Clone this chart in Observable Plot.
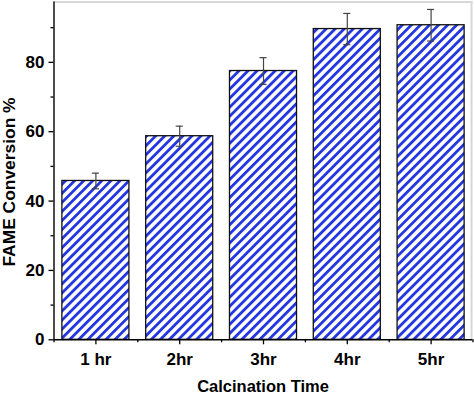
<!DOCTYPE html>
<html>
<head>
<meta charset="utf-8">
<script src="https://cdn.jsdelivr.net/npm/d3@7"></script>
<script src="https://cdn.jsdelivr.net/npm/@observablehq/plot@0.6"></script>
<style>
  html, body { margin: 0; padding: 0; background: #fff; }
  #chart { width: 474px; height: 394px; }
</style>
</head>
<body>
<div id="chart"></div>
<script>
// ---- data ----
const categories = ["1 hr", "2hr", "3hr", "4hr", "5hr"];
const conversion = [45.8, 58.7, 77.5, 89.6, 90.7];
const errors = [2.25, 2.9, 3.85, 4.5, 4.55];
const yMajorTicks = [0, 20, 40, 60, 80];
const yMinorTicks = [10, 30, 50, 70, 90];
const xTitle = "Calcination Time";
const yTitle = "FAME Conversion %";

const data = categories.map((c, i) => ({pos: i + 1, cat: c, value: conversion[i], err: errors[i]}));
const positions = data.map(d => d.pos);
const boundaries = [0.5, ...positions.map(p => p + 0.5)];
const yMax = 97.4;

const chart = Plot.plot({
  width: 474,
  height: 394,
  marginLeft: 53.5,
  marginRight: 1.5,
  marginTop: 1.5,
  marginBottom: 54.7,
  style: {fontFamily: "'Liberation Sans', Arial, sans-serif", fontSize: "17px", fontWeight: "bold", background: "#fff", color: "#000"},
  x: {type: "linear", domain: [0.5, 5.5]},
  y: {domain: [0, yMax]},
  marks: [
    Plot.ruleY([yMax], {stroke: "#d8d8d8", strokeWidth: 2}),
    Plot.ruleX([5.5], {stroke: "#d8d8d8", strokeWidth: 2, dx: -1.5}),
    Plot.rectY(data, {x1: d => d.pos - 0.4, x2: d => d.pos + 0.4, y: "value", fill: "url(#hatch)", stroke: "#111", strokeWidth: 1.3}),
    Plot.ruleX(data, {x: "pos", y1: d => d.value - d.err, y2: d => d.value + d.err, stroke: "#444", strokeWidth: 1.2}),
    Plot.ruleY(data, {x1: d => d.pos - 0.042, x2: d => d.pos + 0.042, y: d => d.value + d.err, stroke: "#444", strokeWidth: 1.2}),
    Plot.ruleY(data, {x1: d => d.pos - 0.042, x2: d => d.pos + 0.042, y: d => d.value - d.err, stroke: "#444", strokeWidth: 1.2}),
    Plot.ruleY([0], {stroke: "#000", strokeWidth: 1.4}),
    Plot.ruleX([0.5], {stroke: "#000", strokeWidth: 1.4}),
    Plot.axisY(yMajorTicks, {tickSize: 5, tickPadding: 4.5, tickFormat: d => String(d), label: null, strokeWidth: 1.3, fontSize: 17, fontWeight: "bold"}),
    Plot.axisY(yMinorTicks, {tickSize: 3, tickFormat: () => "", label: null, strokeWidth: 1.3}),
    Plot.axisX(positions, {tickSize: 5, tickPadding: 8.6, tickFormat: p => categories[p - 1], label: null, strokeWidth: 1.3, fontSize: 17, fontWeight: "bold"}),
    Plot.axisX(boundaries, {tickSize: 3, tickFormat: () => "", label: null, strokeWidth: 1.3})
  ]
});

const svg = d3.select(chart);
const defs = svg.insert("defs", ":first-child");
const pat = defs.append("pattern")
  .attr("id", "hatch")
  .attr("patternUnits", "userSpaceOnUse")
  .attr("width", 6.4)
  .attr("height", 10)
  .attr("patternTransform", "rotate(45)");
pat.append("rect").attr("width", 6.4).attr("height", 10).attr("fill", "#fff");
pat.append("rect").attr("width", 2.8).attr("height", 10).attr("fill", "#2436e0");

svg.append("text")
  .attr("x", 263)
  .attr("y", 392)
  .attr("text-anchor", "middle")
  .attr("font-size", "16.5px")
  .attr("font-weight", "bold")
  .text(xTitle);

svg.append("text")
  .attr("transform", "translate(14.5,182) rotate(-90)")
  .attr("text-anchor", "middle")
  .attr("font-size", "17.4px")
  .attr("font-weight", "bold")
  .text(yTitle);

document.getElementById("chart").appendChild(chart);
</script>
</body>
</html>
